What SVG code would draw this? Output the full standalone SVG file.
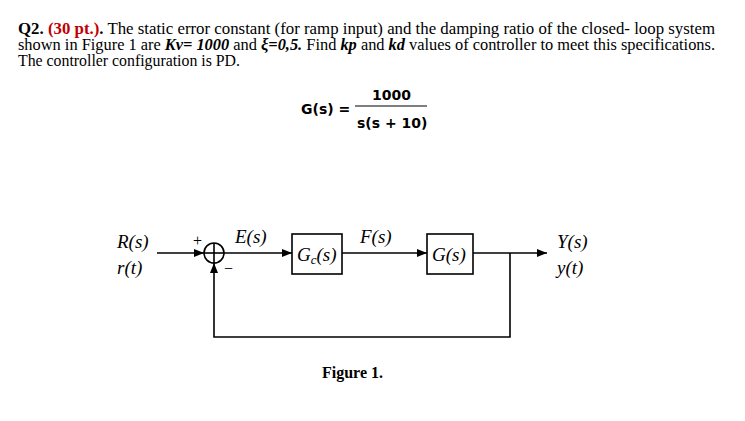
<svg xmlns="http://www.w3.org/2000/svg" width="745" height="421" viewBox="0 0 745 421">
<style>
.t{font-family:"Liberation Serif",serif;font-size:16px;fill:#000}
.m{font-family:"Liberation Serif",serif;font-size:19px;font-style:italic;fill:#000}
.f{font-family:"DejaVu Sans",sans-serif;font-size:14px;font-weight:bold;fill:#000}
.ln{stroke:#000;stroke-width:1.6;fill:none}
</style>
<defs><marker id="a" markerWidth="10" markerHeight="8" refX="10" refY="4" orient="auto" markerUnits="userSpaceOnUse"><path d="M0,0L10,4L0,8Z" fill="#000"/></marker></defs>
<rect width="745" height="421" fill="#fff"/>
<text class="t" x="18" y="34" textLength="697" lengthAdjust="spacingAndGlyphs"><tspan font-weight="bold">Q2. </tspan><tspan font-weight="bold" fill="#c00000">(30 pt.)</tspan><tspan font-weight="bold">.</tspan> The static error constant (for ramp input) and the damping ratio of the closed- loop system</text>
<text class="t" x="18" y="50" textLength="697" lengthAdjust="spacingAndGlyphs">shown in Figure 1 are <tspan font-weight="bold" font-style="italic">Kv= 1000</tspan> and <tspan font-weight="bold" font-style="italic">ξ=0,5.</tspan> Find <tspan font-weight="bold" font-style="italic">kp</tspan> and <tspan font-weight="bold" font-style="italic">kd</tspan> values of controller to meet this specifications.</text>
<text class="t" x="18" y="66" textLength="222" lengthAdjust="spacingAndGlyphs">The controller configuration is PD.</text>
<g id="formula">
<text class="f" x="301" y="114">G(s) =</text>
<text class="f" x="372" y="100">1000</text>
<line x1="355" y1="106" x2="427" y2="106" stroke="#000" stroke-width="1.2"/>
<text class="f" x="357" y="128">s(s + 10)</text>
</g>
<g id="labels">
<text class="m" x="117" y="248">R(s)</text>
<text class="m" x="117" y="274">r(t)</text>
<text class="m" x="235" y="243">E(s)</text>
<text class="m" x="360" y="243">F(s)</text>
<text class="m" x="557" y="248">Y(s)</text>
<text class="m" x="557" y="274">y(t)</text>
<text class="t" x="193" y="246">+</text>
<text class="t" x="224" y="274">−</text>
</g>
<g id="sum"><circle class="ln" cx="214" cy="253" r="10"/><line class="ln" x1="204" y1="253" x2="224" y2="253"/><line class="ln" x1="214" y1="243" x2="214" y2="263"/></g>
<g id="Gc"><rect class="ln" x="292" y="234" width="50" height="40"/><text class="m" x="297" y="261">G<tspan font-size="13" dy="3">c</tspan><tspan dy="-3">(s)</tspan></text></g>
<g id="G"><rect class="ln" x="427" y="234" width="46" height="40"/><text class="m" x="432" y="261">G(s)</text></g>
<g id="connectors" class="ln">
<line x1="157" y1="253" x2="204" y2="253" marker-end="url(#a)"/>
<line x1="224" y1="253" x2="292" y2="253" marker-end="url(#a)"/>
<line x1="342" y1="253" x2="427" y2="253" marker-end="url(#a)"/>
<line x1="473" y1="253" x2="547" y2="253" marker-end="url(#a)"/>
<polyline points="510,253 510,337 214,337 214,263" marker-end="url(#a)"/>
</g>
<text x="322" y="378" style="font-family:'Liberation Serif',serif;font-size:16px;font-weight:bold">Figure 1.</text>
</svg>
